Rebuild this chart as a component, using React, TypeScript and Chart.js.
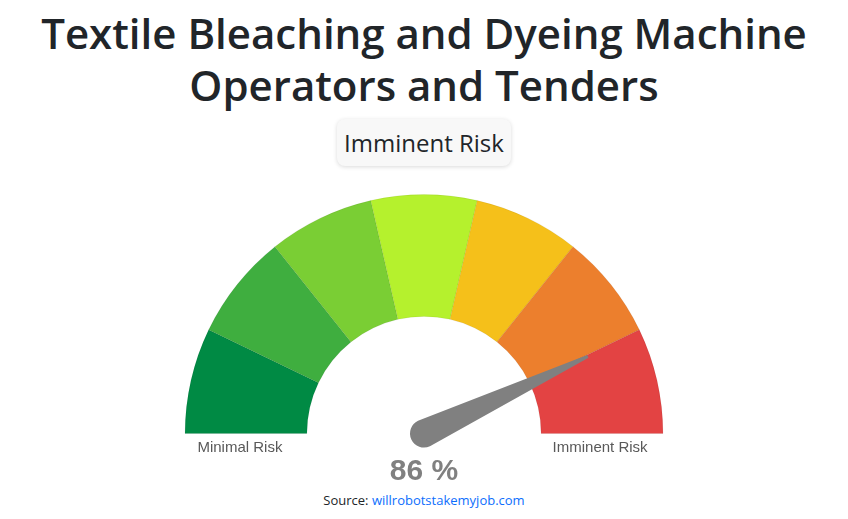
import React, { useEffect, useRef } from "react";
import { Chart, registerables } from "chart.js";

Chart.register(...registerables);

const TITLE_LINES = ["Textile Bleaching and Dyeing Machine", "Operators and Tenders"];
const BADGE = "Imminent Risk";
const SEGMENTS = [1, 1, 1, 1, 1, 1, 1];
const SEGMENT_COLORS = ["#008a44", "#3fae3f", "#7ace34", "#b5f12d", "#f5c01a", "#ec7f2d", "#e34343"];
const VALUE = 86;
const MIN_LABEL = "Minimal Risk";
const MAX_LABEL = "Imminent Risk";
const SOURCE_PREFIX = "Source: ";
const SOURCE_LINK = "willrobotstakemyjob.com";

const gaugePlugin = {
  id: "gaugeNeedle",
  afterDatasetsDraw(chart: any) {
    const meta = chart.getDatasetMeta(0);
    const arc = meta.data[0];
    if (!arc) return;
    const { x, y, outerRadius, innerRadius } = arc.getProps(["x", "y", "outerRadius", "innerRadius"], true);
    const ctx = chart.ctx;
    const value = chart.data.datasets[0].needleValue as number;
    const angle = Math.PI + (value / 100) * Math.PI;
    const len = (outerRadius + innerRadius) / 2 + 3;
    const baseR = 14;
    ctx.save();
    ctx.translate(x, y);
    ctx.rotate(angle);
    ctx.fillStyle = "#808080";
    ctx.beginPath();
    ctx.moveTo(0, -baseR);
    ctx.lineTo(len, -1.5);
    ctx.lineTo(len, 1.5);
    ctx.lineTo(0, baseR);
    ctx.arc(0, 0, baseR, Math.PI / 2, (3 * Math.PI) / 2);
    ctx.closePath();
    ctx.fill();
    ctx.restore();

    ctx.save();
    ctx.textAlign = "center";
    ctx.textBaseline = "middle";
    ctx.fillStyle = "#595959";
    ctx.font = "15px 'Liberation Sans', Arial, sans-serif";
    const off = (outerRadius + innerRadius) / 2 + 5;
    ctx.fillText(MIN_LABEL, x - off - 1, y + 14);
    ctx.fillText(MAX_LABEL, x + off - 7, y + 14);
    ctx.fillStyle = "#808080";
    ctx.font = "bold 30px 'Liberation Sans', Arial, sans-serif";
    ctx.fillText(value + " %", x, y + 38);
    ctx.restore();
  },
};

function Gauge() {
  const ref = useRef<HTMLCanvasElement | null>(null);
  useEffect(() => {
    if (!ref.current) return;
    const chart = new Chart(ref.current, {
      type: "doughnut",
      data: {
        labels: SEGMENT_COLORS.map((_, i) => "Segment " + (i + 1)),
        datasets: [
          {
            data: SEGMENTS,
            backgroundColor: SEGMENT_COLORS,
            borderColor: "rgba(0,0,0,0.06)",
            borderWidth: 1,
            needleValue: VALUE,
          } as any,
        ],
      },
      options: {
        animation: false,
        responsive: true,
        maintainAspectRatio: false,
        rotation: -90,
        circumference: 180,
        cutout: "49%",
        layout: { padding: { left: 10, right: 10, top: 8, bottom: 52 } },
        plugins: {
          legend: { display: false },
          tooltip: { enabled: false },
        },
      },
      plugins: [gaugePlugin],
    });
    return () => chart.destroy();
  }, []);
  return (
    <div style={{ position: "relative", width: 500, height: 300, margin: "0 auto" }}>
      <canvas ref={ref} />
    </div>
  );
}

export default function App() {
  return (
    <div style={{ fontFamily: "'Open Sans', 'Noto Sans', sans-serif", textAlign: "center", color: "#212529" }}>
      <h1 style={{ fontSize: 42, lineHeight: "52px", fontWeight: 600, margin: "-1px 0 0 0" }}>
        {TITLE_LINES[0]}
        <br />
        {TITLE_LINES[1]}
      </h1>
      <div
        style={{
          display: "inline-block",
          marginTop: 8,
          padding: "5px 7px",
          fontSize: 24,
          lineHeight: "37px",
          background: "#f8f8f8",
          borderRadius: 8,
          boxShadow: "0 1px 4px rgba(0,0,0,0.15)",
        }}
      >
        {BADGE}
      </div>
      <div style={{ marginTop: 20 }}>
        <Gauge />
      </div>
      <div style={{ fontSize: 13, marginTop: 5 }}>
        {SOURCE_PREFIX}
        <a href="#" style={{ color: "#0d6efd", textDecoration: "none" }}>
          {SOURCE_LINK}
        </a>
      </div>
    </div>
  );
}
